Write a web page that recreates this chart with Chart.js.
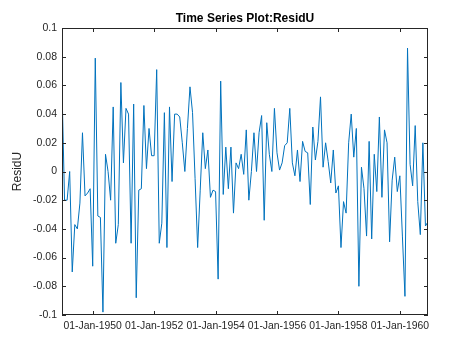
<!DOCTYPE html>
<html>
<head>
<meta charset="utf-8">
<script src="https://cdn.jsdelivr.net/npm/chart.js@4.4.1/dist/chart.umd.min.js"></script>
<style>
  html, body { margin: 0; padding: 0; background: #fff; }
</style>
</head>
<body>
<canvas id="c" width="474" height="355"></canvas>
<script>
// monthly residuals, Jan 1949 .. Dec 1960 (index = months since Jan 1949)
const residU = [
  0.058, -0.02, -0.02, 0.0, -0.07, -0.037, -0.04, -0.022, 0.027, -0.017, -0.015, -0.012,
  -0.066, 0.079, -0.031, -0.032, -0.098, 0.012, 0.0, -0.02, 0.045, -0.05, -0.037, 0.062,
  0.006, 0.044, 0.04, -0.05, 0.047, -0.088, -0.013, -0.012, 0.046, 0.002, 0.03, 0.011,
  0.011, 0.071, -0.05, -0.036, 0.041, -0.053, 0.045, -0.007, 0.04, 0.04, 0.038, 0.02,
  0.0, 0.03, 0.059, 0.041, -0.005, -0.053, -0.013, 0.027, 0.002, 0.015, -0.018, -0.013,
  -0.014, -0.075, 0.063, -0.016, 0.017, -0.012, 0.017, -0.029, 0.006, 0.002, 0.012, -0.002,
  0.029, -0.02, 0.0, 0.027, 0.0, 0.027, 0.039, -0.034, 0.034, 0.012, 0.0, 0.044,
  0.013, 0.001, 0.006, 0.018, 0.02, 0.044, 0.006, -0.003, 0.015, -0.007, 0.021, 0.014,
  0.013, -0.023, 0.031, 0.008, 0.021, 0.052, 0.003, 0.02, 0.007, -0.008, 0.015, -0.015,
  -0.01, -0.053, -0.021, -0.029, 0.02, 0.04, 0.01, 0.03, -0.08, 0.003, -0.012, -0.045,
  0.021, -0.047, 0.012, -0.014, 0.038, -0.018, 0.029, 0.02, -0.049, -0.006, 0.01, -0.014,
  -0.003, -0.045, -0.087, 0.086, 0.005, -0.01, 0.032, -0.021, -0.044, 0.02, -0.038, -0.035
];
const xTickMonths = [12, 36, 60, 84, 108, 132];
const xTickLabels = ['01-Jan-1950', '01-Jan-1952', '01-Jan-1954', '01-Jan-1956', '01-Jan-1958', '01-Jan-1960'];
const yTicks = [0.1, 0.08, 0.06, 0.04, 0.02, 0, -0.02, -0.04, -0.06, -0.08, -0.1];
const titleText = 'Time Series Plot:ResidU';
const yLabel = 'ResidU';

const axisColor = '#262626';
const fontFamily = '"Liberation Sans", Arial, sans-serif';
const points = residU.map((v, i) => ({ x: i, y: v }));

// matlab style box: frame, inward ticks on all four sides, title and y label
const matlabBox = {
  id: 'matlabBox',
  afterDraw(chart) {
    const { ctx, chartArea: a, scales: { x, y } } = chart;
    const tl = 4;
    ctx.save();
    ctx.strokeStyle = axisColor;
    ctx.lineWidth = 1;
    ctx.strokeRect(a.left + 0.5, a.top + 0.5, a.right - a.left - 1, a.bottom - a.top - 1);
    ctx.beginPath();
    xTickMonths.forEach(m => {
      const px = Math.round(x.getPixelForValue(m)) + 0.5;
      ctx.moveTo(px, a.bottom); ctx.lineTo(px, a.bottom - tl);
      ctx.moveTo(px, a.top); ctx.lineTo(px, a.top + tl);
    });
    yTicks.forEach(v => {
      const py = Math.round(y.getPixelForValue(v)) + 0.5;
      ctx.moveTo(a.left, py); ctx.lineTo(a.left + tl, py);
      ctx.moveTo(a.right, py); ctx.lineTo(a.right - tl, py);
    });
    ctx.stroke();

    ctx.fillStyle = '#000';
    ctx.font = 'bold 12px ' + fontFamily;
    ctx.textAlign = 'center';
    ctx.textBaseline = 'alphabetic';
    ctx.fillText(titleText, (a.left + a.right) / 2, 22);

    ctx.fillStyle = axisColor;
    ctx.font = '12px ' + fontFamily;
    ctx.translate(18, (a.top + a.bottom) / 2);
    ctx.rotate(-Math.PI / 2);
    ctx.textBaseline = 'middle';
    ctx.fillText(yLabel, 0, 0);
    ctx.restore();
  }
};

new Chart(document.getElementById('c'), {
  type: 'line',
  data: {
    datasets: [{
      data: points,
      borderColor: '#0072BD',
      borderWidth: 1,
      pointRadius: 0,
      tension: 0,
      fill: false
    }]
  },
  options: {
    responsive: false,
    animation: false,
    devicePixelRatio: 1,
    layout: { padding: { top: 28, right: 46, left: 0, bottom: 0 } },
    plugins: { legend: { display: false }, title: { display: false }, tooltip: { enabled: false } },
    scales: {
      x: {
        type: 'linear',
        min: 0,
        max: residU.length - 1,
        afterBuildTicks: s => { s.ticks = xTickMonths.map(v => ({ value: v })); },
        afterFit: s => { s.height = 40; },
        grid: { drawOnChartArea: false, drawTicks: false },
        border: { display: false },
        ticks: {
          autoSkip: false,
          maxRotation: 0,
          padding: 5,
          color: axisColor,
          font: { family: fontFamily, size: 10.4 },
          callback: v => xTickLabels[xTickMonths.indexOf(v)]
        }
      },
      y: {
        min: -0.1,
        max: 0.1,
        afterBuildTicks: s => { s.ticks = yTicks.map(v => ({ value: v })); },
        afterFit: s => { s.width = 62; },
        grid: { drawOnChartArea: false, drawTicks: false },
        border: { display: false },
        ticks: {
          padding: 5,
          color: axisColor,
          font: { family: fontFamily, size: 10.5 },
          callback: v => String(Math.round(v * 100) / 100)
        }
      }
    }
  },
  plugins: [matlabBox]
});
</script>
</body>
</html>
